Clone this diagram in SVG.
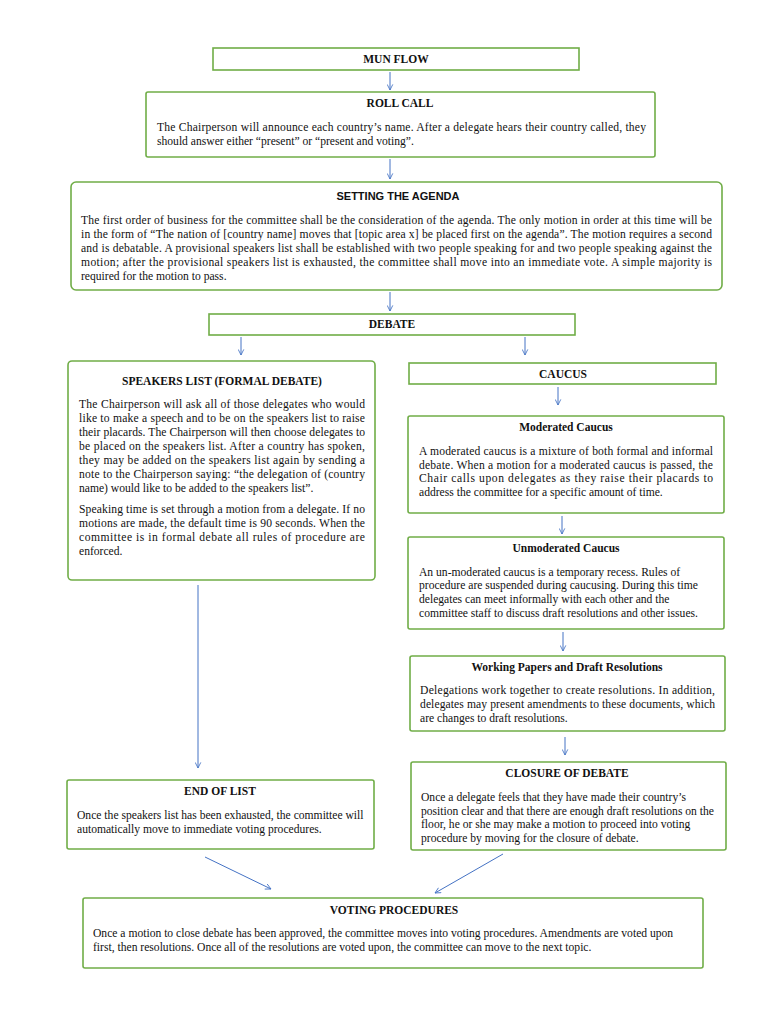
<svg xmlns="http://www.w3.org/2000/svg" width="768" height="1024" viewBox="0 0 768 1024">
<style>
.box{fill:#fff;stroke:#70ad47;stroke-width:1.6}
.t{font-family:"Liberation Serif","Times New Roman",serif;font-size:11.6px;fill:#111}
.h{font-family:"Liberation Serif","Times New Roman",serif;font-size:11.5px;font-weight:bold;fill:#111;text-anchor:middle}
.hs{font-family:"Liberation Sans",Arial,sans-serif;font-size:11px;font-weight:bold;fill:#111;text-anchor:middle}
.c{stroke:#4472c4;stroke-width:1;fill:none}
</style>
<defs>
<marker id="ah" viewBox="0 0 10 10" refX="9" refY="5" markerWidth="7" markerHeight="7" orient="auto" markerUnits="userSpaceOnUse">
<path d="M1,1 L9,5 L1,9" fill="none" stroke="#4472c4" stroke-width="1.2"/>
</marker>
</defs>
<rect width="768" height="1024" fill="#fff"/>

<g id="connectors">
<line class="c" x1="390" y1="72" x2="390" y2="90" marker-end="url(#ah)"/>
<line class="c" x1="390" y1="159" x2="390" y2="179" marker-end="url(#ah)"/>
<line class="c" x1="390" y1="292" x2="390" y2="311" marker-end="url(#ah)"/>
<line class="c" x1="241" y1="337" x2="241" y2="355" marker-end="url(#ah)"/>
<line class="c" x1="525" y1="337" x2="525" y2="355" marker-end="url(#ah)"/>
<line class="c" x1="558" y1="387" x2="558" y2="405" marker-end="url(#ah)"/>
<line class="c" x1="562" y1="516" x2="562" y2="534" marker-end="url(#ah)"/>
<line class="c" x1="563" y1="632" x2="563" y2="651" marker-end="url(#ah)"/>
<line class="c" x1="565" y1="737" x2="565" y2="755" marker-end="url(#ah)"/>
<line class="c" x1="198" y1="585" x2="198" y2="768" marker-end="url(#ah)"/>
<line class="c" x1="205" y1="857" x2="271" y2="889" marker-end="url(#ah)"/>
<line class="c" x1="503" y1="854" x2="435" y2="893" marker-end="url(#ah)"/>
</g>

<g id="mun-flow">
<rect class="box" x="213" y="48" width="366" height="22"/>
<text class="h" x="396" y="63">MUN FLOW</text>
</g>

<g id="roll-call">
<rect class="box" x="146" y="92" width="509" height="65" rx="2"/>
<text class="h" x="400" y="107">ROLL CALL</text>
<text class="t" x="157" y="131" textLength="489" lengthAdjust="spacing">The Chairperson will announce each country’s name. After a delegate hears their country called, they</text>
<text class="t" x="157" y="145">should answer either “present” or “present and voting”.</text>
</g>

<g id="setting-agenda">
<rect class="box" x="71" y="182" width="651" height="108" rx="5"/>
<text class="hs" x="398" y="200">SETTING THE AGENDA</text>
<text class="t" x="81" y="224" textLength="631" lengthAdjust="spacing">The first order of business for the committee shall be the consideration of the agenda. The only motion in order at this time will be</text>
<text class="t" x="81" y="238" textLength="631" lengthAdjust="spacing">in the form of “The nation of [country name] moves that [topic area x] be placed first on the agenda”. The motion requires a second</text>
<text class="t" x="81" y="252" textLength="631" lengthAdjust="spacing">and is debatable. A provisional speakers list shall be established with two people speaking for and two people speaking against the</text>
<text class="t" x="81" y="266" textLength="631" lengthAdjust="spacing">motion; after the provisional speakers list is exhausted, the committee shall move into an immediate vote. A simple majority is</text>
<text class="t" x="81" y="280">required for the motion to pass.</text>
</g>

<g id="debate">
<rect class="box" x="209" y="314" width="366" height="21"/>
<text class="h" x="392" y="328">DEBATE</text>
</g>

<g id="speakers-list">
<rect class="box" x="68" y="361" width="307" height="219" rx="4"/>
<text class="h" x="222" y="385">SPEAKERS LIST (FORMAL DEBATE)</text>
<text class="t" x="79" y="408" textLength="286" lengthAdjust="spacing">The Chairperson will ask all of those delegates who would</text>
<text class="t" x="79" y="422" textLength="286" lengthAdjust="spacing">like to make a speech and to be on the speakers list to raise</text>
<text class="t" x="79" y="436" textLength="286" lengthAdjust="spacing">their placards. The Chairperson will then choose delegates to</text>
<text class="t" x="79" y="450" textLength="286" lengthAdjust="spacing">be placed on the speakers list. After a country has spoken,</text>
<text class="t" x="79" y="464" textLength="286" lengthAdjust="spacing">they may be added on the speakers list again by sending a</text>
<text class="t" x="79" y="478" textLength="286" lengthAdjust="spacing">note to the Chairperson saying: “the delegation of (country</text>
<text class="t" x="79" y="492">name) would like to be added to the speakers list”.</text>
<text class="t" x="79" y="513" textLength="286" lengthAdjust="spacing">Speaking time is set through a motion from a delegate. If no</text>
<text class="t" x="79" y="527" textLength="286" lengthAdjust="spacing">motions are made, the default time is 90 seconds. When the</text>
<text class="t" x="79" y="541" textLength="286" lengthAdjust="spacing">committee is in formal debate all rules of procedure are</text>
<text class="t" x="79" y="555">enforced.</text>
</g>

<g id="caucus">
<rect class="box" x="409" y="363" width="307" height="21"/>
<text class="h" x="563" y="378">CAUCUS</text>
</g>

<g id="moderated-caucus">
<rect class="box" x="408" y="416" width="316" height="97" rx="2"/>
<text class="h" x="566" y="431">Moderated Caucus</text>
<text class="t" x="419" y="455" textLength="294" lengthAdjust="spacing">A moderated caucus is a mixture of both formal and informal</text>
<text class="t" x="419" y="469" textLength="294" lengthAdjust="spacing">debate. When a motion for a moderated caucus is passed, the</text>
<text class="t" x="419" y="482" textLength="294" lengthAdjust="spacing">Chair calls upon delegates as they raise their placards to</text>
<text class="t" x="419" y="496">address the committee for a specific amount of time.</text>
</g>

<g id="unmoderated-caucus">
<rect class="box" x="408" y="537" width="316" height="92" rx="2"/>
<text class="h" x="566" y="552">Unmoderated Caucus</text>
<text class="t" x="419" y="576">An un-moderated caucus is a temporary recess. Rules of</text>
<text class="t" x="419" y="589">procedure are suspended during caucusing. During this time</text>
<text class="t" x="419" y="603">delegates can meet informally with each other and the</text>
<text class="t" x="419" y="617">committee staff to discuss draft resolutions and other issues.</text>
</g>

<g id="working-papers">
<rect class="box" x="410" y="656" width="315" height="75" rx="2"/>
<text class="h" x="567" y="671">Working Papers and Draft Resolutions</text>
<text class="t" x="420" y="694" textLength="295" lengthAdjust="spacing">Delegations work together to create resolutions. In addition,</text>
<text class="t" x="420" y="708" textLength="295" lengthAdjust="spacing">delegates may present amendments to these documents, which</text>
<text class="t" x="420" y="722">are changes to draft resolutions.</text>
</g>

<g id="closure-of-debate">
<rect class="box" x="411" y="762" width="315" height="88" rx="2"/>
<text class="h" x="567" y="777">CLOSURE OF DEBATE</text>
<text class="t" x="421" y="801">Once a delegate feels that they have made their country’s</text>
<text class="t" x="421" y="815">position clear and that there are enough draft resolutions on the</text>
<text class="t" x="421" y="828">floor, he or she may make a motion to proceed into voting</text>
<text class="t" x="421" y="842">procedure by moving for the closure of debate.</text>
</g>

<g id="end-of-list">
<rect class="box" x="67" y="780" width="307" height="69" rx="2"/>
<text class="h" x="220" y="795">END OF LIST</text>
<text class="t" x="77" y="819">Once the speakers list has been exhausted, the committee will</text>
<text class="t" x="77" y="833">automatically move to immediate voting procedures.</text>
</g>

<g id="voting-procedures">
<rect class="box" x="83" y="898" width="620" height="70" rx="2"/>
<text class="h" x="394" y="914">VOTING PROCEDURES</text>
<text class="t" x="93" y="937">Once a motion to close debate has been approved, the committee moves into voting procedures. Amendments are voted upon</text>
<text class="t" x="93" y="951">first, then resolutions. Once all of the resolutions are voted upon, the committee can move to the next topic.</text>
</g>
</svg>
